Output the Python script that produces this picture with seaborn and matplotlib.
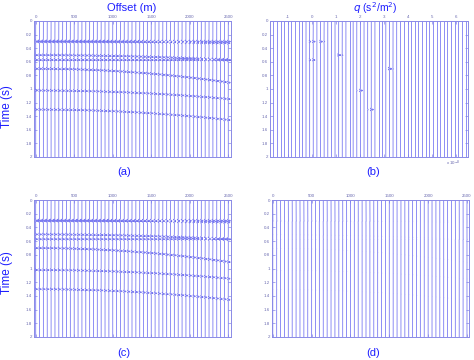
import numpy as np
import pandas as pd
import matplotlib
matplotlib.use("Agg")
import matplotlib.pyplot as plt
import seaborn as sns

# Events: zero-offset time (s) and parabolic curvature q (x 1e-8 s^2/m^2)
event_t0 = [0.30, 0.30, 0.50, 0.57, 0.70, 1.02, 1.30]
event_q = [0.0, 0.4, 1.15, 0.0, 3.25, 2.0, 2.45]
event_amp = [1.0, 0.8, 0.9, 0.9, 0.9, 0.8, 0.8]

# Trace grids
offsets = np.arange(0, 2501, 50)            # m
q_traces = np.linspace(-1.6, 6.4, 54)       # x 1e-8
time = np.arange(0, 2.0001, 0.004)          # s

offset_ticks = [0, 500, 1000, 1500, 2000, 2500]
q_ticks = [-1, 0, 1, 2, 3, 4, 5, 6]
time_ticks = [0, 0.2, 0.4, 0.6, 0.8, 1, 1.2, 1.4, 1.6, 1.8, 2]

TRACE = "#7b7bf2"
EVENT = "#1c1cc8"
SPINE = "#8a8ae6"
TEXT = "#1e1eff"
TICKTXT = "#6a6ab0"


def ricker(tau, f=30.0):
    a = (np.pi * f * tau) ** 2
    return (1 - 2 * a) * np.exp(-a)


def gather(xs):
    data = np.zeros((len(xs), len(time)))
    for t0, q, amp in zip(event_t0, event_q, event_amp):
        tx = t0 + q * 1e-8 * xs ** 2
        data += amp * ricker(time[None, :] - tx[:, None])
    return data


def radon(qs):
    data = np.zeros((len(qs), len(time)))
    step = qs[1] - qs[0]
    for t0, q, amp in zip(event_t0, event_q, event_amp):
        w = np.exp(-((qs - q) / (0.6 * step)) ** 2)
        data += amp * np.outer(w, ricker(time - t0))
    return data


def wiggle(ax, xs, data, scale):
    rows = []
    for i, x in enumerate(xs):
        rows.append(pd.DataFrame({"trace": i, "t": time, "x": x + scale * data[i]}))
        pos = np.clip(data[i], 0, None)
        ax.fill_betweenx(time, x, x + scale * pos, color=EVENT, lw=0)
    df = pd.concat(rows)
    sns.lineplot(data=df, x="x", y="t", units="trace", estimator=None, sort=False,
                 orient="y", color=TRACE, lw=0.6, ax=ax, legend=False)


def style(ax, xlim, xticks):
    ax.set_xlim(*xlim)
    ax.set_ylim(2, 0)
    ax.set_xticks(xticks)
    ax.set_yticks(time_ticks)
    ax.set_yticklabels(["%g" % v for v in time_ticks])
    ax.set_xticklabels(["%g" % v for v in xticks])
    ax.tick_params(direction="in", length=2, width=0.5, colors=SPINE, labelcolor=TICKTXT,
                   labelsize=3.2, pad=1.5, top=True, bottom=True, left=True, right=True,
                   labeltop=True, labelbottom=False)
    ax.set_xlabel("")
    ax.set_ylabel("")
    for s in ax.spines.values():
        s.set_color(SPINE)
        s.set_linewidth(0.7)


sns.set_theme(style="white")
plt.rcParams["font.family"] = ["Liberation Sans", "DejaVu Sans"]

fig = plt.figure(figsize=(4.74, 3.6), dpi=100)
W, H = 474.0, 360.0
ax_a = fig.add_axes([34 / W, 1 - 157 / H, 197 / W, 136 / H])
ax_b = fig.add_axes([270 / W, 1 - 157 / H, 198 / W, 136 / H])
ax_c = fig.add_axes([34 / W, 1 - 337 / H, 197 / W, 137 / H])
ax_d = fig.add_axes([272 / W, 1 - 337 / H, 197 / W, 137 / H])

d_off = gather(offsets)
d_rad = radon(q_traces)

wiggle(ax_a, offsets, d_off, 28)
wiggle(ax_b, q_traces, d_rad, 0.12)
wiggle(ax_c, offsets, d_off * 0.97, 28)
wiggle(ax_d, offsets, d_off * 0.04, 28)

style(ax_a, (-22, 2535), offset_ticks)
style(ax_b, (-1.74, 6.5), q_ticks)
style(ax_c, (-22, 2535), offset_ticks)
style(ax_d, (-10, 2526), offset_ticks)

fig.text(132 / W, 1 - 8 / H, "Offset (m)", color=TEXT, fontsize=8, ha="center", va="center")
fig.text(375 / W, 1 - 12 / H, r"$q$ (s$^2$/m$^2$)", color=TEXT, fontsize=7.5,
         ha="center", va="baseline")
fig.text(453 / W, 1 - 163 / H, r"x 10$^{-8}$", color=TICKTXT, fontsize=3.2, ha="center", va="center")
for lab, x, y in [("(a)", 124, 172), ("(b)", 373, 172), ("(c)", 124, 353), ("(d)", 373, 353)]:
    fig.text(x / W, 1 - y / H, lab, color=TEXT, fontsize=8, ha="center", va="center")
for y in (107, 273):
    fig.text(7 / W, 1 - y / H, "Time (s)", color=TEXT, fontsize=8.5, rotation=90,
             ha="center", va="center")

fig.savefig("out.png", dpi=100)
